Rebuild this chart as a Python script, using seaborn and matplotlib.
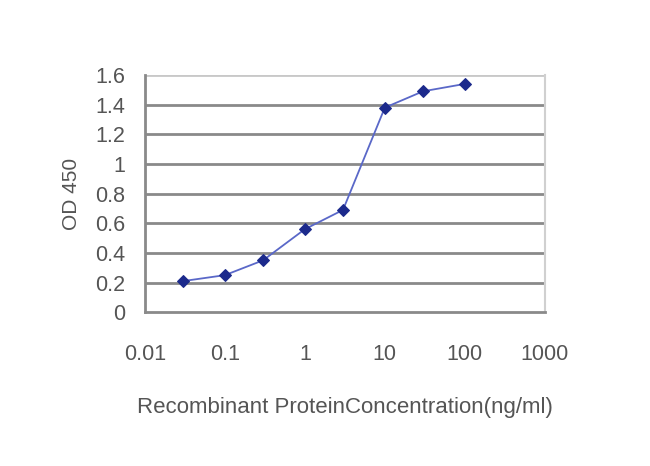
import numpy as np
import pandas as pd
import matplotlib
matplotlib.use("Agg")
import matplotlib.pyplot as plt
import seaborn as sns

# concentration (ng/ml) and OD 450 readings
conc = [0.03, 0.1, 0.3, 1, 3, 10, 30, 100]
od450 = [0.21, 0.25, 0.35, 0.56, 0.69, 1.38, 1.49, 1.54]
xticks = [0.01, 0.1, 1, 10, 100, 1000]
xtick_labels = ["0.01", "0.1", "1", "10", "100", "1000"]
yticks = [0, 0.2, 0.4, 0.6, 0.8, 1, 1.2, 1.4, 1.6]
ytick_labels = ["0", "0.2", "0.4", "0.6", "0.8", "1", "1.2", "1.4", "1.6"]

df = pd.DataFrame({"conc": conc, "od": od450})

sns.set_style("white")
plt.rcParams['font.family'] = ['Liberation Sans', 'DejaVu Sans']

fig = plt.figure(figsize=(6.5, 4.66), dpi=100)
ax = fig.add_axes([0.223, 0.330, 0.615, 0.509])

# horizontal grid
for y in yticks[1:-1]:
    ax.axhline(y, color="#8a8a8a", lw=2.0, zorder=1)
ax.axhline(1.6, color="#c8c8c8", lw=2.0, zorder=1)

sns.lineplot(data=df, x="conc", y="od", ax=ax, color="#5a68c8", lw=1.3,
             marker="D", markersize=6, markerfacecolor="#1c2a8c",
             markeredgecolor="#1c2a8c", zorder=3)

ax.set_xscale("log")
ax.set_xlim(0.01, 1000)
ax.set_ylim(0, 1.6)
ax.set_xticks(xticks)
ax.set_xticklabels(xtick_labels)
ax.xaxis.set_minor_locator(matplotlib.ticker.NullLocator())
ax.set_yticks(yticks)
ax.set_yticklabels(ytick_labels)

ax.tick_params(axis="x", direction="in", length=5, width=1.5, color="#777777",
               pad=23, labelsize=15.5, labelcolor="#555555")
ax.tick_params(axis="y", length=0, pad=14, labelsize=15.5, labelcolor="#555555")

for side in ["left", "bottom"]:
    ax.spines[side].set_color("#8a8a8a")
    ax.spines[side].set_linewidth(2.0)
ax.spines["top"].set_visible(False)
ax.spines["right"].set_color("#d0d0d0")
ax.spines["right"].set_linewidth(1.5)

ax.set_xlabel("Recombinant ProteinConcentration(ng/ml)", fontsize=16,
              color="#555555", labelpad=23)
ax.set_ylabel("OD 450", fontsize=15, color="#555555", labelpad=10)

fig.savefig("out.png", dpi=100)
